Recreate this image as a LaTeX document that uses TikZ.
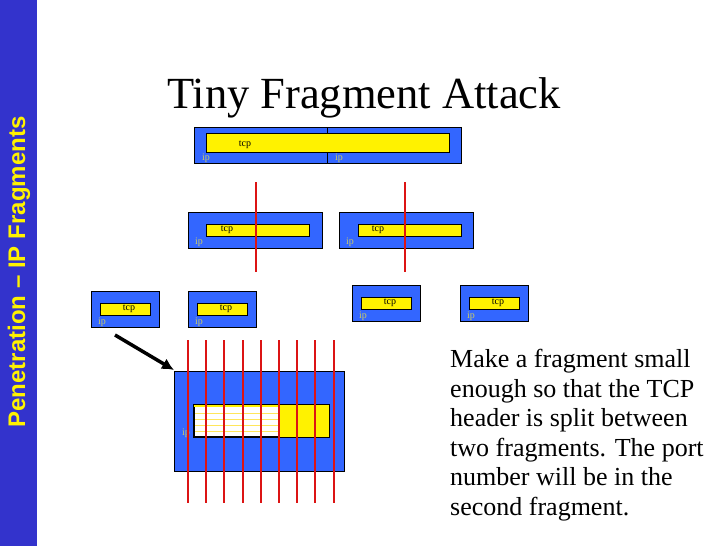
\documentclass[tikz,border=0pt]{standalone}
\usepackage{fontspec}
\usetikzlibrary{arrows.meta}
\setmainfont{Liberation Serif}
\newfontfamily\sideff{Liberation Sans}
\begin{document}
\begin{tikzpicture}[x=1pt,y=-1pt]
\definecolor{ipblue}{RGB}{51,102,255}
\definecolor{side}{RGB}{51,51,204}
\definecolor{lbl}{RGB}{204,204,102}
\definecolor{cut}{RGB}{220,20,20}
\definecolor{hl}{RGB}{255,230,90}
\tikzset{ipbox/.style={fill=ipblue,draw=black,line width=0.8pt},
 tcpbox/.style={fill=yellow,draw=black,line width=0.8pt},
 cutline/.style={cut,line width=1.6pt},
 tl/.style={font=\fontsize{10}{10}\selectfont,inner sep=0pt},
 il/.style={font=\fontsize{10}{10}\selectfont,text=lbl,inner sep=0pt}}
\useasboundingbox (0,0) rectangle (728,546);
\fill[side] (0,0) rectangle (37,546);
\node[rotate=90,text=yellow,font=\sideff\bfseries\fontsize{24}{24}\selectfont] (side) at (19,272) {Penetration – IP Fragments};
\node[font=\fontsize{44.5}{44.5}\selectfont] (title) at (364,98) {Tiny Fragment Attack};
% top
\draw[ipbox] (194,127) rectangle (461,163);
\draw[black,line width=0.8pt] (327,127) -- (327,163);
\draw[tcpbox] (206,133) rectangle (449,152);
\node[tl] (t0) at (245,145) {tcp};
\node[il] (i0a) at (206,158) {ip};
\node[il] (i0b) at (339,158) {ip};
% middle
\draw[ipbox] (188,212) rectangle (322,248);
\draw[tcpbox] (206,224) rectangle (309,236);
\node[tl] (t1) at (227,230) {tcp};
\node[il] (i1) at (199,242) {ip};
\draw[ipbox] (339,212) rectangle (473,248);
\draw[tcpbox] (358,224) rectangle (461,236);
\node[tl] (t2) at (378,230) {tcp};
\node[il] (i2) at (350,242) {ip};
\draw[cutline] (256,182) -- (256,272);
\draw[cutline] (405,182) -- (405,272);
% small
\foreach \x/\y/\n in {91/291/a,188/291/b,352/285/c,460/285/d}{
 \draw[ipbox] (\x,\y) rectangle ++(68,36);
 \draw[tcpbox] (\x+9,\y+12) rectangle ++(50,12);
 \node[tl] (st\n) at (\x+38,\y+18) {tcp};
 \node[il] (si\n) at (\x+11,\y+31) {ip};
}
% bottom
\draw[ipbox] (174,371) rectangle (344,471);
\draw[tcpbox] (193,404) rectangle (329,437);
\fill[white] (194,407) rectangle (278,436);
\foreach \y in {413,419,425,431}{\draw[hl,line width=0.6pt] (194,\y) -- (278,\y);}
\draw[black,line width=0.6pt] (194,407) -- (194,436) -- (278,436);
\node[il] (ib) at (186,433) {ip};
\foreach \x in {188,206,224,243,261,279,297,315,334}{\draw[cutline] (\x,340) -- (\x,503);}
\coordinate (as) at (115,335);
\coordinate (ae) at (174,370);
\draw[black,line width=3.5pt,-{Latex[length=12pt,width=12pt]}] (as) -- (ae);
\node[anchor=north west,align=left,font=\fontsize{26}{29.6}\selectfont,inner sep=0pt] (txt) at (450,349) {Make a fragment small\\enough so that the TCP\\header is split between\\two fragments. The port\\number will be in the\\second fragment.};
\end{tikzpicture}
\end{document}
